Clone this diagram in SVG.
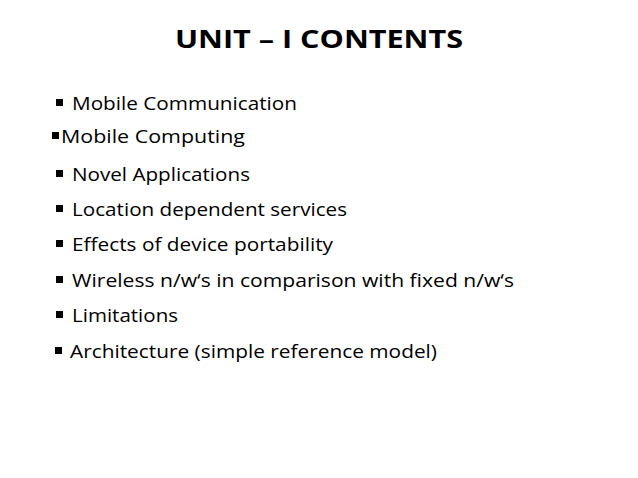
<svg xmlns="http://www.w3.org/2000/svg" width="638" height="478" viewBox="0 0 638 478">
<style>
.t{font-family:"Open Sans","Liberation Sans",sans-serif;font-size:19px;fill:#000}
.h{font-family:"Open Sans","Liberation Sans",sans-serif;font-size:25px;font-weight:bold;fill:#000}
.b{fill:#000}
</style>
<rect width="638" height="478" fill="#fff"/>
<g id="title"><text class="h" x="175" y="48" textLength="288" lengthAdjust="spacingAndGlyphs">UNIT – I  CONTENTS</text></g>
<g id="items">
<rect class="b" x="56" y="99" width="7" height="7"/><text class="t" x="72" y="110" textLength="225" lengthAdjust="spacingAndGlyphs">Mobile Communication</text>
<rect class="b" x="52" y="132" width="7" height="7"/><text class="t" x="61" y="143" textLength="184" lengthAdjust="spacingAndGlyphs">Mobile Computing</text>
<rect class="b" x="56" y="170" width="7" height="7"/><text class="t" x="72" y="181" textLength="178" lengthAdjust="spacingAndGlyphs">Novel Applications</text>
<rect class="b" x="56" y="205" width="7" height="7"/><text class="t" x="72" y="216" textLength="275" lengthAdjust="spacingAndGlyphs">Location dependent services</text>
<rect class="b" x="56" y="240" width="7" height="7"/><text class="t" x="72" y="251" textLength="261" lengthAdjust="spacingAndGlyphs">Effects of device portability</text>
<rect class="b" x="56" y="276" width="7" height="7"/><text class="t" x="72" y="287" textLength="442" lengthAdjust="spacingAndGlyphs">Wireless n/w‘s in comparison with fixed n/w‘s</text>
<rect class="b" x="56" y="311" width="7" height="7"/><text class="t" x="72" y="322" textLength="106" lengthAdjust="spacingAndGlyphs">Limitations</text>
<rect class="b" x="55" y="347" width="7" height="7"/><text class="t" x="70" y="358" textLength="367" lengthAdjust="spacingAndGlyphs">Architecture (simple reference model)</text>
</g>
</svg>
